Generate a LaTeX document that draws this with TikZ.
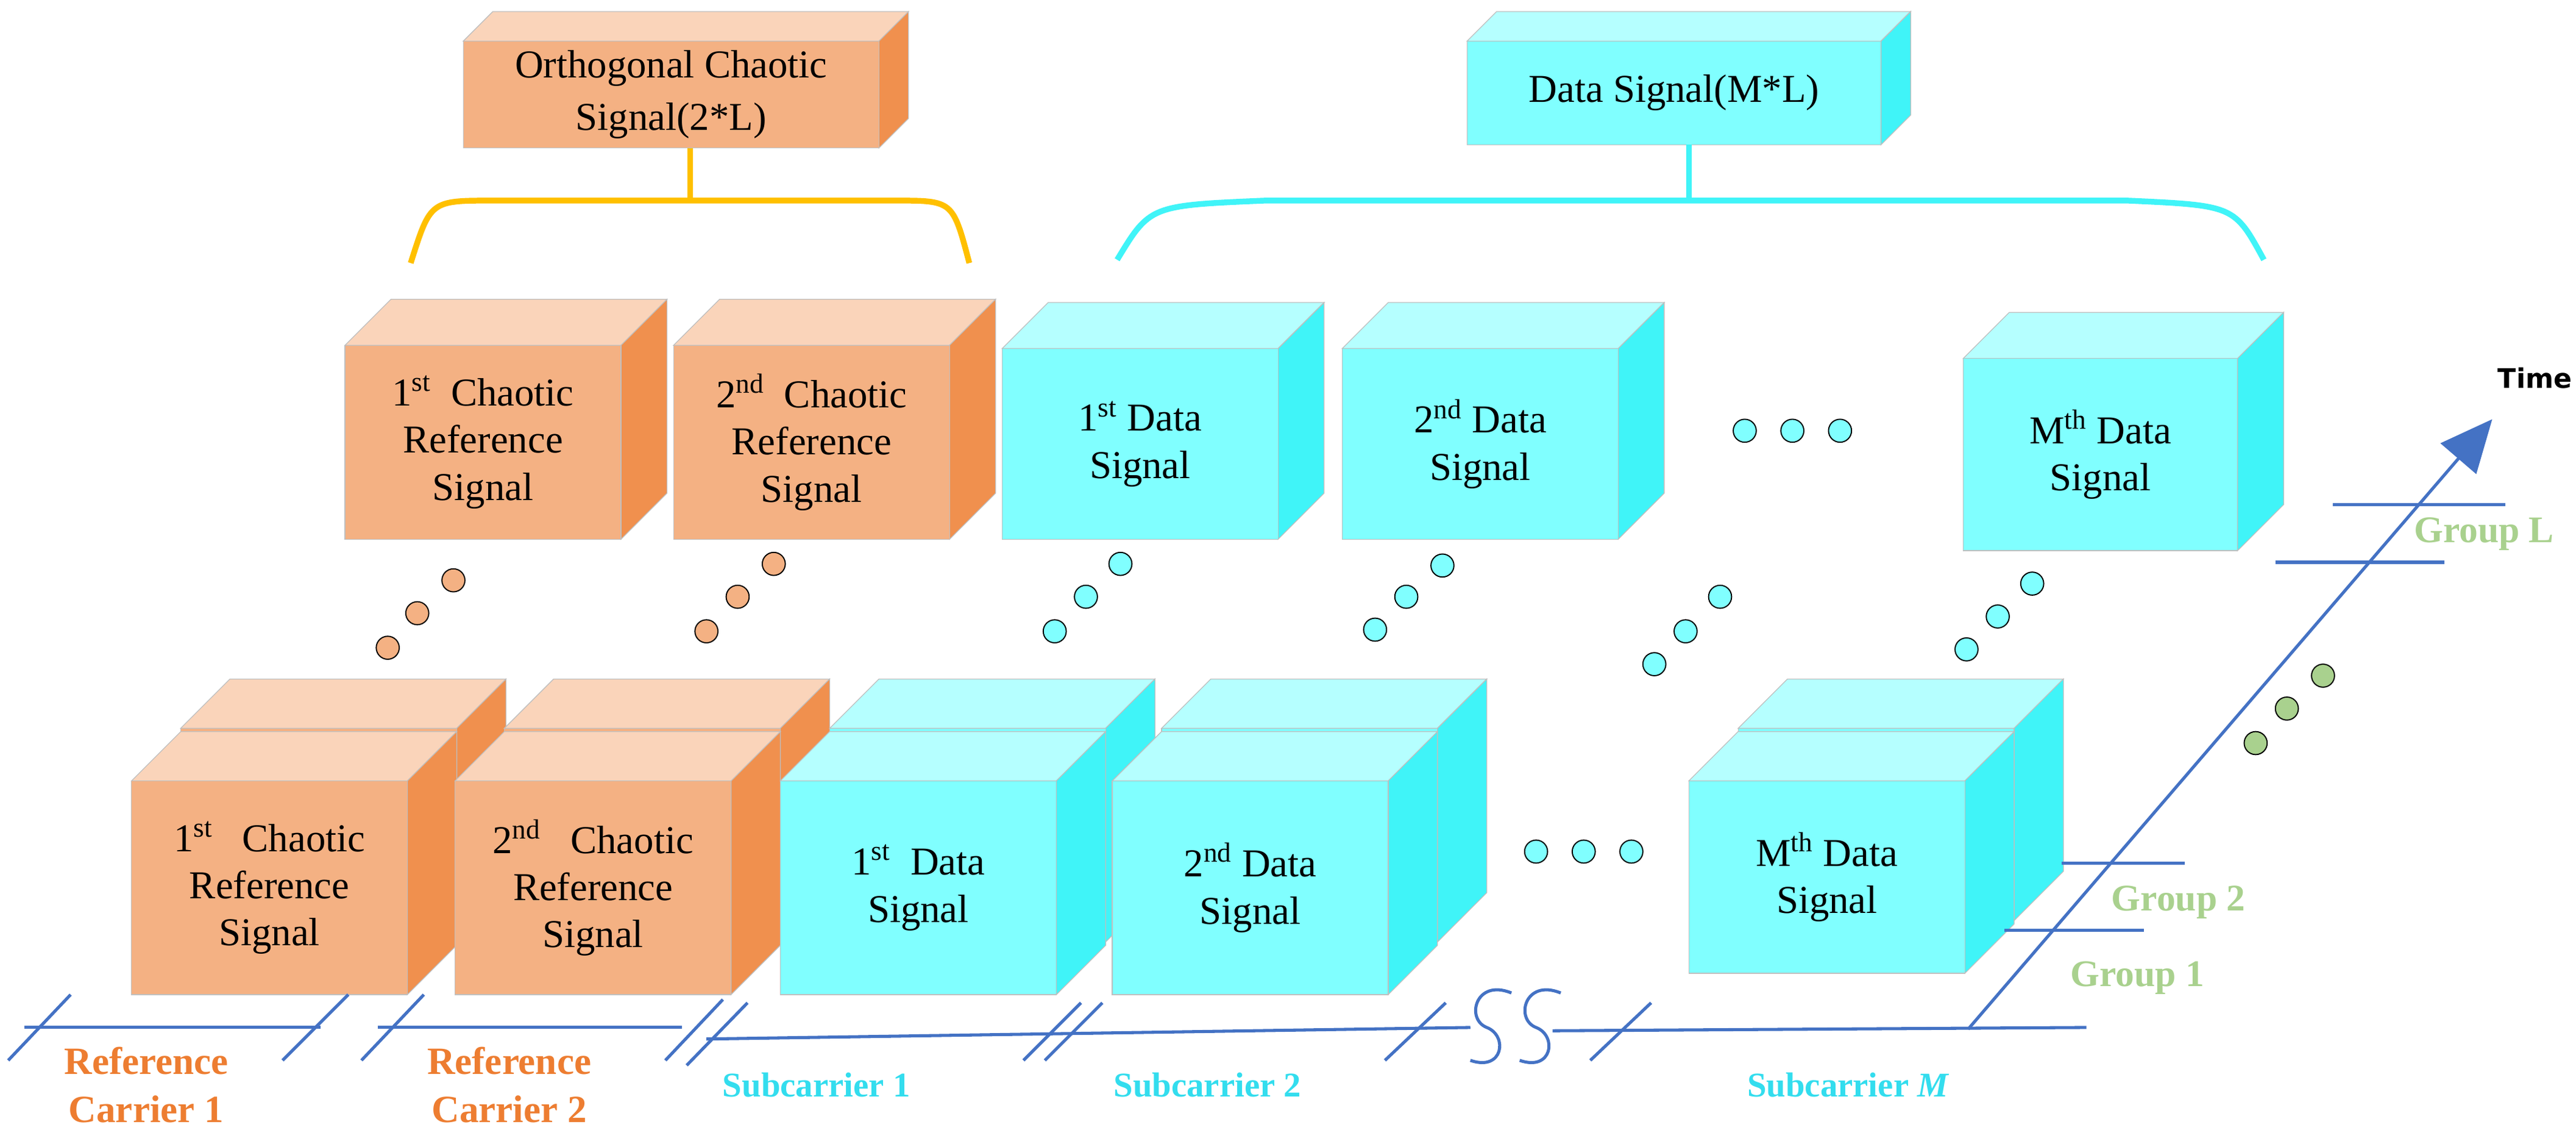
\documentclass[tikz,border=0pt]{standalone}
\usepackage{fontspec}
\setmainfont{Liberation Serif}
\newfontfamily\sansf{DejaVu Sans}
\usetikzlibrary{arrows.meta}
\definecolor{ofront}{HTML}{F4B183}
\definecolor{otop}{HTML}{FAD4BA}
\definecolor{oside}{HTML}{F0904E}
\definecolor{cfront}{HTML}{80FFFF}
\definecolor{ctop}{HTML}{B5FFFF}
\definecolor{cside}{HTML}{40F4F8}
\definecolor{edgec}{HTML}{BFBFBF}
\definecolor{axisb}{HTML}{4472C4}
\definecolor{olab}{HTML}{ED7D31}
\definecolor{clab}{HTML}{33DDEE}
\definecolor{glab}{HTML}{A9D18E}
\definecolor{braceo}{HTML}{FFC000}
\tikzset{
 txt/.style={align=center,font=\fontsize{20.5}{24.5}\selectfont},
 ax/.style={draw=axisb,line width=1.6pt},
 olabel/.style={text=olab,font=\bfseries\fontsize{20}{25}\selectfont,align=center},
 clabel/.style={text=clab,font=\bfseries\fontsize{18}{22}\selectfont},
 glabel/.style={text=glab,font=\bfseries\fontsize{19.5}{22}\selectfont},
 dotb/.style={circle,draw=black,inner sep=0pt,minimum size=0.42cm,line width=0.6pt},
 odot/.style={dotb,fill=ofront},
 cdot/.style={dotb,fill=cfront},
 gdot/.style={dotb,fill=glab},
}
% name, x, y, w, h, d, prefix, text
\newcommand\mycube[8]{%
 \filldraw[fill=#7top,draw=edgec] (#2,#3) -- ++(#6,-#6) -- ++(#4,0) -- ++(-#6,#6) -- cycle;
 \filldraw[fill=#7side,draw=edgec] (#2+#4,#3) -- ++(#6,-#6) -- ++(0,#5) -- ++(-#6,#6) -- cycle;
 \filldraw[fill=#7front,draw=edgec] (#2,#3) rectangle ++(#4,#5);
 \node[txt] (#1) at (#2+#4/2,#3+#5/2) {#8};}
\begin{document}
\begin{tikzpicture}[x=0.03cm,y=-0.03cm]
\useasboundingbox (0,0) rectangle (1568,687);
% top boxes
\mycube{orth}{282}{25}{253}{65}{18}{o}{Orthogonal Chaotic\\[3pt]Signal(2*L)}
\mycube{datas}{893}{25}{252}{63}{18}{c}{Data Signal(M*L)}
\coordinate (orthb) at (420,90);
\coordinate (datab) at (1028,88);
\coordinate (ob) at (420,122);
\coordinate (cb) at (1028,122);
\draw[braceo,line width=3pt] (250,160) .. controls (262,122) .. (300,122) -- (545,122) .. controls (580,122) .. (590,160);
\draw[braceo,line width=3pt] (orthb) -- (ob);
\draw[cside,line width=3pt] (680,158) .. controls (700,125) .. (770,122) -- (1295,122) .. controls (1360,125) .. (1378,158);
\draw[cside,line width=3pt] (datab) -- (cb);
% upper row
\mycube{u1}{210}{210}{168}{118}{28}{o}{1\textsuperscript{st}\ \ Chaotic\\Reference\\Signal}
\mycube{u2}{410}{210}{168}{118}{28}{o}{2\textsuperscript{nd}\ \ Chaotic\\Reference\\Signal}
\mycube{u3}{610}{212}{168}{116}{28}{c}{1\textsuperscript{st} Data\\Signal}
\mycube{u4}{817}{212}{168}{116}{28}{c}{2\textsuperscript{nd} Data\\Signal}
\mycube{u5}{1195}{218}{167}{117}{28}{c}{M\textsuperscript{th} Data\\Signal}
\foreach \x/\n in {1062/a,1091/b,1120/c} \node[cdot] (ud\n) at (\x,262) {};
% lower row back cubes
\mycube{b1}{110}{443}{168}{130}{30}{o}{}
\mycube{b2}{307}{443}{168}{130}{30}{o}{}
\mycube{b3}{505}{443}{168}{130}{30}{c}{}
\mycube{b4}{707}{443}{168}{130}{30}{c}{}
\mycube{b5}{1058}{443}{168}{117}{30}{c}{}
% front cubes
\mycube{f1}{80}{475}{168}{130}{30}{o}{1\textsuperscript{st}\ \ \ Chaotic\\Reference\\Signal}
\mycube{f2}{277}{475}{168}{130}{30}{o}{2\textsuperscript{nd}\ \ \ Chaotic\\Reference\\Signal}
\mycube{f3}{475}{475}{168}{130}{30}{c}{1\textsuperscript{st}\ \ Data\\Signal}
\mycube{f4}{677}{475}{168}{130}{30}{c}{2\textsuperscript{nd} Data\\Signal}
\mycube{f5}{1028}{475}{168}{117}{30}{c}{M\textsuperscript{th} Data\\Signal}
\foreach \x/\n in {935/a,964/b,993/c} \node[cdot] (md\n) at (\x,518) {};
% diagonal dots
\foreach \x/\y/\n in {236/394/a,254/373/b,276/353/c} \node[odot] (d1\n) at (\x,\y) {};
\foreach \x/\y/\n in {430/384/a,449/363/b,471/343/c} \node[odot] (d2\n) at (\x,\y) {};
\foreach \x/\y/\n in {642/384/a,661/363/b,682/343/c} \node[cdot] (d3\n) at (\x,\y) {};
\foreach \x/\y/\n in {837/383/a,856/363/b,878/344/c} \node[cdot] (d4\n) at (\x,\y) {};
\foreach \x/\y/\n in {1007/404/a,1026/384/b,1047/363/c} \node[cdot] (d5\n) at (\x,\y) {};
\foreach \x/\y/\n in {1197/395/a,1216/375/b,1237/355/c} \node[cdot] (d6\n) at (\x,\y) {};
\foreach \x/\y/\n in {1373/452/a,1392/431/b,1414/411/c} \node[gdot] (d7\n) at (\x,\y) {};
% bottom axis
\draw[ax] (15,625) -- (195,625);
\draw[ax] (5,645) -- (43,605);
\draw[ax] (172,645) -- (212,605);
\draw[ax] (230,625) -- (415,625);
\draw[ax] (220,645) -- (258,605);
\draw[ax] (405,645) -- (440,608);
\draw[ax] (418,648) -- (455,610);
\draw[ax] (430,632) -- (895,625);
\draw[ax] (623,645) -- (658,610);
\draw[ax] (636,645) -- (671,610);
\draw[ax] (843,645) -- (880,610);
\draw[ax] (920,604) .. controls (898,595) and (892,620) .. (905,625) .. controls (918,630) and (915,652) .. (895,645);
\draw[ax] (950,604) .. controls (928,595) and (922,620) .. (935,625) .. controls (948,630) and (945,652) .. (925,645);
\draw[ax] (945,627) -- (1270,625);
\draw[ax] (968,645) -- (1005,610);
% time axis
\coordinate (t0) at (1198,626);
\coordinate (t1) at (1517,255);
\draw[ax,-{Triangle[length=0.95cm,width=0.85cm]}] (t0) -- (t1);
\draw[ax] (1220,566) -- (1305,566);
\draw[ax] (1255,525) -- (1330,525);
\draw[ax] (1385,342) -- (1488,342);
\draw[ax] (1420,307) -- (1525,307);
\node[font=\sansf\bfseries\fontsize{14}{16}\selectfont] (time) at (1543,230) {Time};
\node[glabel] (g1) at (1301,595) {Group 1};
\node[glabel] (g2) at (1326,549) {Group 2};
\node[glabel] (gl) at (1512,325) {Group L};
% labels
\node[olabel] (rc1) at (89,660) {Reference\\Carrier 1};
\node[olabel] (rc2) at (310,660) {Reference\\Carrier 2};
\node[clabel] (s1) at (497,660) {Subcarrier 1};
\node[clabel] (s2) at (735,660) {Subcarrier 2};
\node[clabel] (sm) at (1125,660) {Subcarrier \textit{M}};
\end{tikzpicture}
\end{document}
